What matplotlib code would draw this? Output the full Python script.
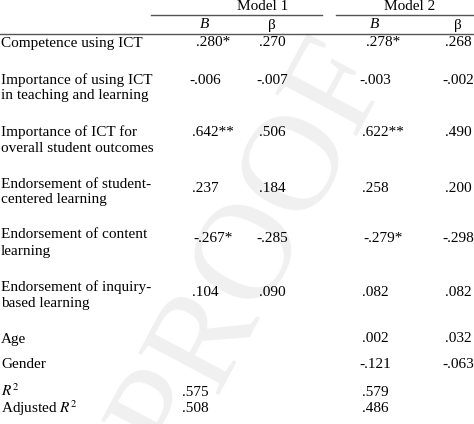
import matplotlib.pyplot as plt

plt.rcParams['font.family'] = ['Liberation Serif', 'DejaVu Serif']
plt.rcParams['mathtext.fontset'] = 'stix'

# table content
row_labels = [
    ["Competence using ICT"],
    ["Importance of using ICT", "in teaching and learning"],
    ["Importance of ICT for", "overall student outcomes"],
    ["Endorsement of student-", "centered learning"],
    ["Endorsement of content", "learning"],
    ["Endorsement of inquiry-", "based learning"],
    ["Age"],
    ["Gender"],
]
row_y = [43, 80, 132, 184, 235, 287, 339, 365]
val_y = [43, 81, 133, 188, 238, 292, 339, 365]
m1_B = [".280*", "-.006", ".642**", ".237", "-.267*", ".104", "", ""]
m1_beta = [".270", "-.007", ".506", ".184", "-.285", ".090", "", ""]
m2_B = [".278*", "-.003", ".622**", ".258", "-.279*", ".082", ".002", "-.121"]
m2_beta = [".268", "-.002", ".490", ".200", "-.298", ".082", ".032", "-.063"]
r2 = [".575", ".579"]
adj_r2 = [".508", ".486"]

fig = plt.figure(figsize=(4.74, 4.24), dpi=100)
ax = fig.add_axes([0, 0, 1, 1])
ax.set_xlim(0, 474)
ax.set_ylim(424, 0)
ax.axis("off")

fs = 11
# watermark
ax.text(255, 250, "PROOF", fontsize=100, color="#f0f0f0", rotation=62,
        ha="center", va="center", zorder=0, clip_on=True)

ax.text(263, 7, "Model 1", fontsize=fs, ha="center", va="center")
ax.text(410, 7, "Model 2", fontsize=fs, ha="center", va="center")
ax.plot([151, 322], [15, 15], color="#555", lw=1)
ax.plot([336, 474], [15, 15], color="#555", lw=1)
cols = [205, 272, 375, 458]
for x, t in zip(cols, ["B", "β", "B", "β"]):
    ax.text(x, 25, t, fontsize=fs, ha="center", va="center",
            style="italic" if t == "B" else "normal")
ax.plot([0, 474], [34, 34], color="#555", lw=1)

for lines, y in zip(row_labels, row_y):
    for k, line in enumerate(lines):
        ax.text(1, y + 16 * k, line, fontsize=fs, ha="left", va="center")

for i, y in enumerate(val_y):
    for x, v in zip(cols, [m1_B[i], m1_beta[i], m2_B[i], m2_beta[i]]):
        if v:
            off = 8 if "*" in v else 0
            ax.text(x + off, y, v, fontsize=fs, ha="center", va="center")

ax.text(1, 391, "$R^2$", fontsize=fs, ha="left", va="center")
ax.text(1, 408, "Adjusted $R^2$", fontsize=fs, ha="left", va="center")
ax.text(195, 392, r2[0], fontsize=fs, ha="center", va="center")
ax.text(375, 392, r2[1], fontsize=fs, ha="center", va="center")
ax.text(195, 408, adj_r2[0], fontsize=fs, ha="center", va="center")
ax.text(375, 408, adj_r2[1], fontsize=fs, ha="center", va="center")

fig.savefig("out.png", dpi=100)
